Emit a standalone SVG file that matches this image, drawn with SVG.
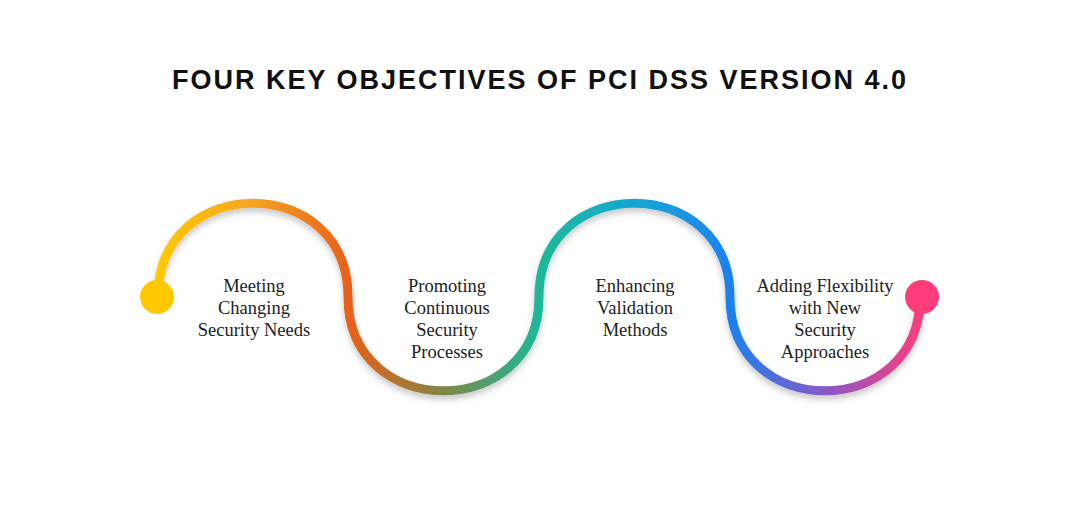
<svg xmlns="http://www.w3.org/2000/svg" width="1080" height="520" viewBox="0 0 1080 520">
<style>
.t{font-family:"Liberation Serif","DejaVu Serif",serif;font-size:18.5px;fill:#222;text-anchor:middle}
.h{font-family:"Liberation Sans",Arial,sans-serif;font-weight:bold;font-size:27px;fill:#111;text-anchor:middle;letter-spacing:2px}
</style>
<defs>
<linearGradient id="g" gradientUnits="userSpaceOnUse" x1="158" y1="0" x2="922" y2="0">
<stop offset="0" stop-color="#FFC800"/>
<stop offset="0.12" stop-color="#F5A623"/>
<stop offset="0.25" stop-color="#E8601A"/>
<stop offset="0.375" stop-color="#7E8748"/>
<stop offset="0.5" stop-color="#1CB89A"/>
<stop offset="0.63" stop-color="#18A6D6"/>
<stop offset="0.75" stop-color="#1E80EC"/>
<stop offset="0.875" stop-color="#8A58C6"/>
<stop offset="1" stop-color="#FF3D7A"/>
</linearGradient>
<filter id="s" x="-10%" y="-20%" width="120%" height="140%">
<feDropShadow dx="0" dy="4" stdDeviation="3" flood-color="#000" flood-opacity="0.22"/>
</filter>
</defs>
<rect width="1080" height="520" fill="#fff"/>
<text class="h" x="540" y="89">FOUR KEY OBJECTIVES OF PCI DSS VERSION 4.0</text>
<g id="connectors">
<path d="M158,297 C158,172 348,172 348,297 C348,422 539,422 539,297 C539,172 730,172 730,297 C730,422 920,422 920,297" fill="none" stroke="url(#g)" stroke-width="9" stroke-linecap="round" filter="url(#s)"/>
</g>
<g id="start"><circle cx="157" cy="297" r="17" fill="#FFC800"/></g>
<g id="end"><circle cx="922" cy="297" r="17" fill="#FF3D7A"/></g>
<g id="n1"><text class="t" x="254" y="292">Meeting</text><text class="t" x="254" y="314">Changing</text><text class="t" x="254" y="336">Security Needs</text></g>
<g id="n2"><text class="t" x="447" y="292">Promoting</text><text class="t" x="447" y="314">Continuous</text><text class="t" x="447" y="336">Security</text><text class="t" x="447" y="358">Processes</text></g>
<g id="n3"><text class="t" x="635" y="292">Enhancing</text><text class="t" x="635" y="314">Validation</text><text class="t" x="635" y="336">Methods</text></g>
<g id="n4"><text class="t" x="825" y="292">Adding Flexibility</text><text class="t" x="825" y="314">with New</text><text class="t" x="825" y="336">Security</text><text class="t" x="825" y="358">Approaches</text></g>
</svg>
